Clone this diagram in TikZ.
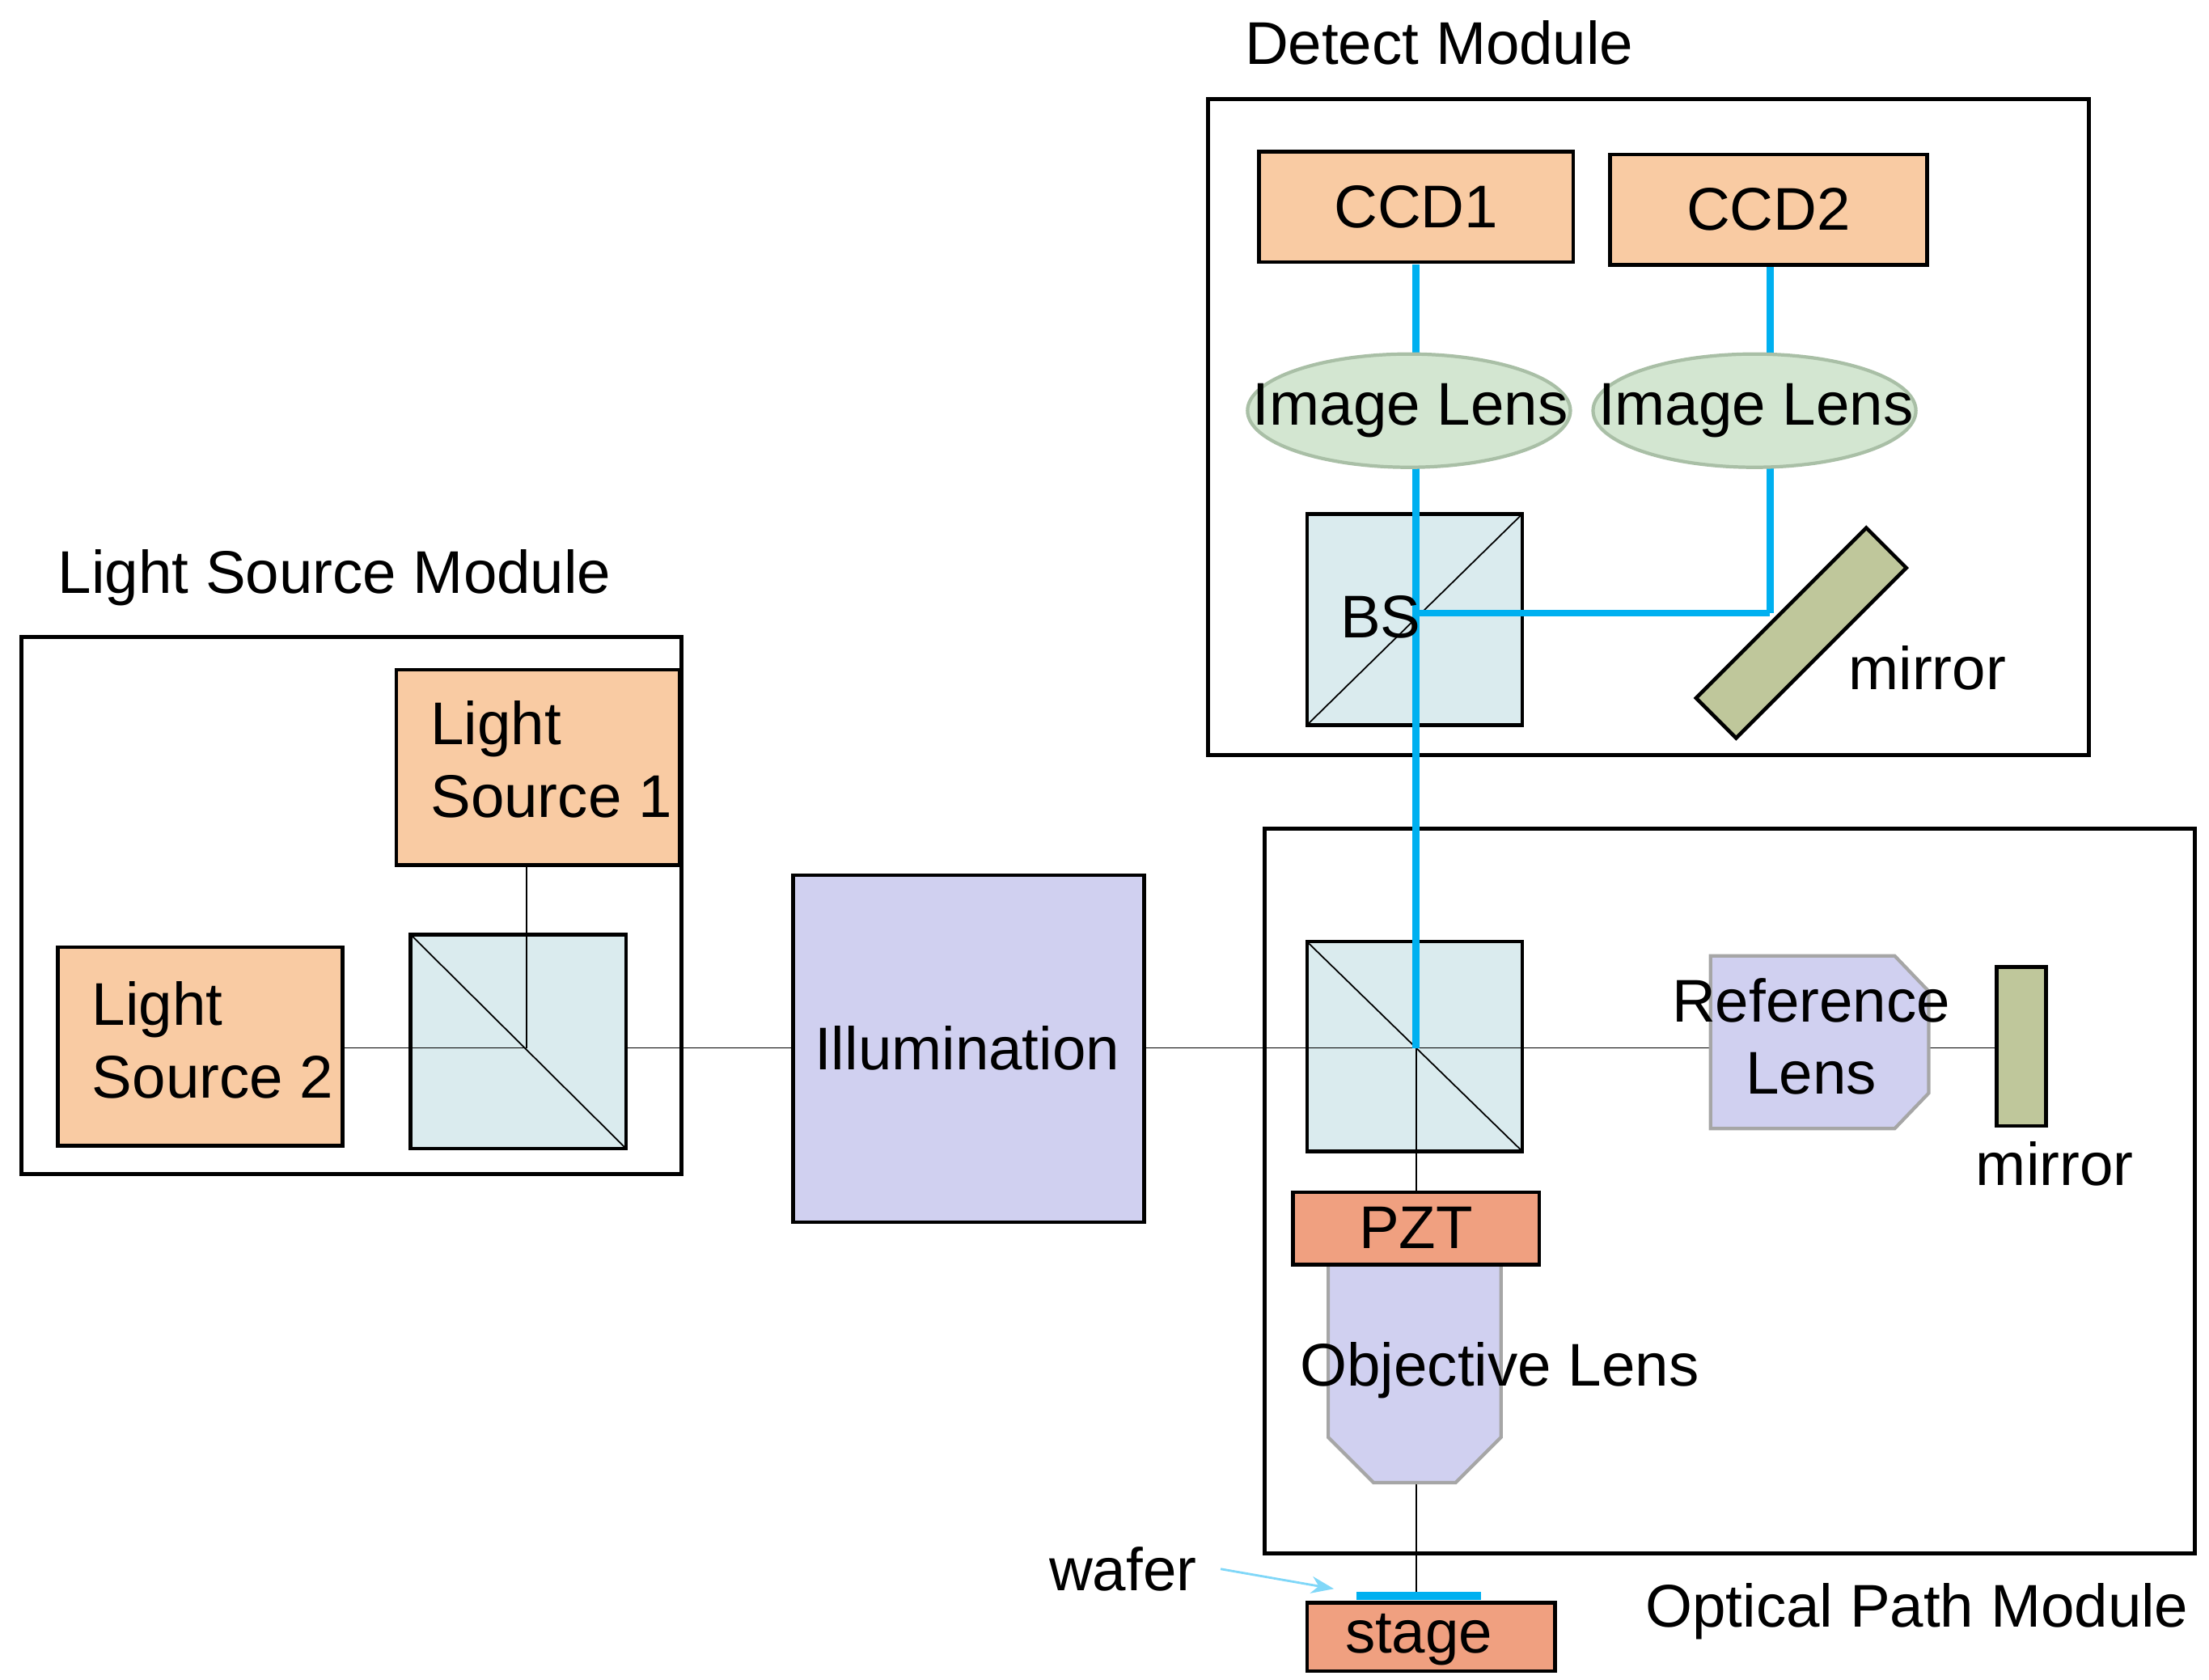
\documentclass[tikz,border=0pt]{standalone}
\usepackage{fontspec}
\setmainfont{Liberation Sans}
\usetikzlibrary{arrows.meta}
\definecolor{peach}{HTML}{F9CBA3}
\definecolor{lav}{HTML}{D0D0F0}
\definecolor{cube}{HTML}{DAEBEE}
\definecolor{lensg}{HTML}{D3E6D1}
\definecolor{lensb}{HTML}{A9BFA6}
\definecolor{olive}{HTML}{BFC79B}
\definecolor{pzt}{HTML}{F0A080}
\definecolor{beam}{HTML}{00B0F0}
\begin{document}
\begin{tikzpicture}[x=0.0175cm,y=-0.0175cm,
  every node/.style={font=\fontsize{21.2}{25.5}\selectfont},
  box/.style={draw=black,line width=1.4pt},
  part/.style={draw=black,line width=1.3pt},
  ray/.style={line width=0.5pt},
  blue/.style={draw=beam,line width=2.5pt}]
\useasboundingbox (0,0) rectangle (1560,1186);
% module frames
\draw[box] (853,70) rectangle (1475,533);
\draw[box] (15,450) rectangle (481,829);
\draw[box] (893,585) rectangle (1550,1097);
\node[anchor=west] (ldm) at (872,30) {Detect Module};
\node[anchor=west] (lls) at (34,408) {Light Source Module};
\node[anchor=west] (lop) at (1155,1138) {Optical Path Module};
% black rays
\draw[ray] (242,740) -- (560,740);
\draw[ray] (372,611) -- (372,740);
\draw[ray] (808,740) -- (1410,740);
\draw[ray] (1000,740) -- (1000,842);
\draw[ray] (1000,1047) -- (1000,1125);
% light source
\draw[part,fill=peach] (280,473) rectangle (480,611);
\node[anchor=north west,align=left] (ls1) at (297,488) {Light\\Source 1};
\draw[part,fill=peach] (41,669) rectangle (242,809);
\node[anchor=north west,align=left] (ls2) at (58,686) {Light\\Source 2};
\draw[part,fill=cube] (290,660) rectangle (442,811);
\draw[ray] (290,660) -- (442,811);
\draw[ray] (372,611) -- (372,740) -- (242,740);
% illumination
\draw[part,fill=lav] (560,618) rectangle (808,863);
\node (ill) at (683,740) {Illumination};
% lower cube
\draw[part,fill=cube] (923,665) rectangle (1075,813);
\draw[ray] (923,665) -- (1075,813);
\draw[ray] (923,740) -- (1075,740);
\draw[ray] (1000,740) -- (1000,813);
% reference lens
\draw[draw=gray!70,line width=1.2pt,fill=lav] (1208,675) -- (1338,675) -- (1362,700) -- (1362,772) -- (1338,797) -- (1208,797) -- cycle;
\node[align=center] (rl) at (1279,732) {Reference\\Lens};
\draw[part,fill=olive] (1410,683) rectangle (1445,795);
\node (m2) at (1451,822) {mirror};
% PZT + objective
\draw[draw=gray!70,line width=1.2pt,fill=lav] (938,893) -- (1060,893) -- (1060,1015) -- (1028,1047) -- (970,1047) -- (938,1015) -- cycle;
\draw[part,fill=pzt] (913,842) rectangle (1087,893);
\node (pzt) at (1000,867) {PZT};
\node (obj) at (1059,968) {Objective Lens};
% stage and wafer
\draw[part,fill=pzt] (923,1132) rectangle (1098,1180);
\node (st) at (1002,1158) {stage};
\draw[draw=beam,line width=3pt] (958,1127) -- (1046,1127);
\node (wf) at (793,1108) {wafer};
\coordinate (wt) at (942,1122);
\draw[draw=beam!50,line width=0.8pt,-{Stealth[length=8pt]}] (862,1108) -- (wt);
% detect module
\draw[blue] (1000,187) -- (1000,250);
\draw[blue] (1250,187) -- (1250,250);
\draw[blue] (1250,330) -- (1250,433);
\draw[part,fill=cube] (923,363) rectangle (1075,512);
\draw[ray] (923,512) -- (1075,363);
\draw[blue] (1000,330) -- (1000,740);
\draw[blue] (1000,433) -- (1250,433);
\node (bs) at (975,436) {BS};
\draw[part,fill=olive,rotate around={45:(1272,447)}] (1187,427) rectangle (1357,467);
\node (m1) at (1361,472) {mirror};
\draw[part,fill=peach] (889,107) rectangle (1111,185);
\node (c1) at (1000,146) {CCD1};
\draw[part,fill=peach] (1137,109) rectangle (1361,187);
\node (c2) at (1249,148) {CCD2};
\draw[draw=lensb,line width=1.2pt,fill=lensg] (995,290) ellipse [x radius=114,y radius=40];
\draw[draw=lensb,line width=1.2pt,fill=lensg] (1239,290) ellipse [x radius=114,y radius=40];
\node (il1) at (996,290) {Image Lens};
\node (il2) at (1240,290) {Image Lens};
\end{tikzpicture}
\end{document}
